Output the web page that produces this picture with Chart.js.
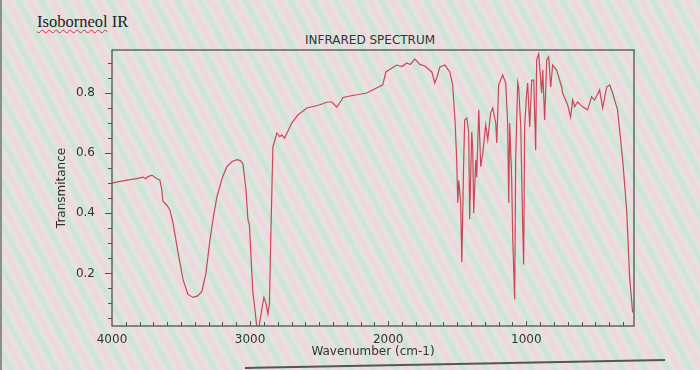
<!DOCTYPE html>
<html>
<head>
<meta charset="utf-8">
<script src="https://cdn.jsdelivr.net/npm/chart.js@4"></script>
<style>
  html, body { margin: 0; padding: 0; }
  body {
    width: 700px; height: 370px; overflow: hidden; position: relative;
    background-color: #e2e6e0;
    background-image: repeating-linear-gradient(62deg, #efd6dd 0px, #e5e3e0 5px, #cbe5d4 10px, #e5e3e0 15px, #efd6dd 20px);
    font-family: "DejaVu Sans", sans-serif;
  }
  #edge { position: absolute; left: 0; top: 0; width: 2px; height: 370px; background: #8a8f8a; }
  #heading {
    position: absolute; left: 37px; top: 12px;
    font-family: "Liberation Serif", serif; font-size: 16.5px; color: #222;
  }
  #heading span { text-decoration: underline wavy #d03040; text-decoration-thickness: 1px; text-underline-offset: 2px; }
  #spectrumTitle {
    position: absolute; left: 305px; top: 33px;
    font-size: 12px; color: #333;
  }
  #rule {
    position: absolute; left: 245px; top: 367px; width: 420px; height: 1.5px;
    background: #555; transform: rotate(-1.1deg); transform-origin: left center;
  }
  #wrap { position: absolute; left: 0; top: 0; width: 700px; height: 370px; }
</style>
</head>
<body>
<div id="edge"></div>
<div id="heading"><span>Isoborneol</span> IR</div>
<div id="spectrumTitle">INFRARED SPECTRUM</div>
<div id="rule"></div>
<div id="wrap"><canvas id="irChart" width="700" height="370"></canvas></div>
<script>
// wavenumber (cm-1) and transmittance
var wavenumbers = [4000, 3950, 3891, 3820, 3776, 3755, 3740, 3711, 3690, 3674, 3653, 3640, 3631, 3600, 3580,
    3559, 3522, 3486, 3450, 3414, 3380, 3349, 3320, 3291, 3265, 3240, 3200, 3168, 3130, 3095, 3070, 3052,
    3030, 3016, 3005, 2980, 2965, 2951, 2935, 2915, 2900, 2885, 2871, 2860, 2850, 2835, 2806, 2785, 2770,
    2750, 2734, 2698, 2654, 2589, 2500, 2440, 2408, 2372, 2340, 2328, 2278, 2155, 2039, 2017, 1938, 1900,
    1865, 1840, 1807, 1790, 1771, 1735, 1684, 1663, 1645, 1627, 1590, 1570, 1554, 1533, 1515, 1504, 1496,
    1489, 1475, 1467, 1453, 1446, 1431, 1417, 1410, 1395, 1388, 1381, 1366, 1359, 1344, 1330, 1315, 1294,
    1279, 1258, 1243, 1221, 1214, 1200, 1171, 1149, 1135, 1127, 1120, 1106, 1098, 1084, 1077, 1062, 1055,
    1040, 1026, 1019, 1012, 997, 990, 975, 961, 946, 932, 925, 910, 889, 881, 867, 852, 838, 823, 809,
    780, 744, 737, 700, 679, 664, 650, 628, 592, 556, 527, 505, 469, 447, 418, 396, 375, 339, 302, 273,
    252, 230];
var transmittance = [0.50, 0.505, 0.51, 0.515, 0.52, 0.515, 0.522, 0.527, 0.52, 0.515, 0.51, 0.48, 0.44, 0.425, 0.41,
    0.37, 0.27, 0.18, 0.13, 0.12, 0.125, 0.14, 0.2, 0.31, 0.39, 0.455, 0.52, 0.555, 0.572, 0.578, 0.575, 0.565,
    0.48, 0.38, 0.36, 0.137, 0.08, 0.02, 0.025, 0.08, 0.12, 0.1, 0.065, 0.1, 0.32, 0.62, 0.667, 0.655, 0.66,
    0.65, 0.665, 0.70, 0.727, 0.75, 0.76, 0.77, 0.77, 0.753, 0.775, 0.785, 0.79, 0.80, 0.827, 0.87, 0.893, 0.888,
    0.90, 0.895, 0.913, 0.905, 0.895, 0.89, 0.87, 0.833, 0.855, 0.886, 0.893, 0.88, 0.87, 0.827, 0.70, 0.578, 0.435,
    0.51, 0.435, 0.237, 0.578, 0.71, 0.717, 0.67, 0.38, 0.67, 0.62, 0.40, 0.578, 0.52, 0.744, 0.555, 0.60, 0.694,
    0.644, 0.734, 0.75, 0.70, 0.634, 0.827, 0.86, 0.833, 0.70, 0.435, 0.70, 0.52, 0.313, 0.114, 0.578, 0.836, 0.82,
    0.687, 0.356, 0.23, 0.687, 0.80, 0.833, 0.687, 0.843, 0.843, 0.61, 0.91, 0.93, 0.80, 0.876, 0.71, 0.91, 0.92, 0.82, 0.893,
    0.876, 0.82, 0.80, 0.76, 0.72, 0.777, 0.755, 0.77, 0.754, 0.744, 0.787, 0.777, 0.81, 0.75, 0.82, 0.827, 0.80, 0.744, 0.578, 0.41,
    0.19, 0.07];
var xTicks = [4000, 3000, 2000, 1000];
var yTicks = [0.2, 0.4, 0.6, 0.8];

var points = [];
for (var i = 0; i < wavenumbers.length; i++) {
    points.push({ x: wavenumbers[i], y: transmittance[i] });
}

// frame + minor ticks, placed through the scales
var framePlugin = {
    id: 'frame',
    afterDraw: function (chart) {
        var ctx = chart.ctx;
        var a = chart.chartArea;
        var xs = chart.scales.x, ys = chart.scales.y;
        ctx.save();
        ctx.strokeStyle = '#4e5450';
        ctx.lineWidth = 1.3;
        ctx.strokeRect(a.left, a.top, a.right - a.left, a.bottom - a.top);
        ctx.lineWidth = 1;
        ctx.beginPath();
        for (var w = 300; w <= 3900; w += 100) {
            var px = Math.round(xs.getPixelForValue(w)) + 0.5;
            var len = (w % 1000 === 0) ? 5 : 4;
            ctx.moveTo(px, a.bottom);
            ctx.lineTo(px, a.bottom - len);
        }
        for (var t = 0.05; t < 0.94; t += 0.05) {
            var py = Math.round(ys.getPixelForValue(t)) + 0.5;
            var major = Math.abs(t * 5 - Math.round(t * 5)) < 0.01;
            ctx.moveTo(a.left, py);
            ctx.lineTo(a.left - (major ? 7 : 4), py);
        }
        ctx.stroke();
        ctx.restore();
    }
};

var ctx = document.getElementById('irChart');
var irChart = new Chart(ctx, {
    type: 'line',
    data: {
        datasets: [{
            data: points,
            borderColor: '#c8485a',
            borderWidth: 1.2,
            pointRadius: 0,
            tension: 0,
            fill: false
        }]
    },
    options: {
        responsive: false,
        animation: false,
        layout: { padding: { left: 0, right: 66, top: 50, bottom: 0 } },
        plugins: { legend: { display: false }, tooltip: { enabled: false } },
        scales: {
            x: {
                type: 'linear',
                reverse: true,
                min: 220,
                max: 4000,
                afterFit: function (scale) { scale.height = 44; },
                afterBuildTicks: function (scale) {
                    scale.ticks = xTicks.map(function (v) { return { value: v }; });
                },
                grid: { display: false },
                border: { display: false },
                ticks: {
                    padding: -1, color: '#333', font: { family: 'DejaVu Sans', size: 12 }, maxRotation: 0,
                    callback: function (v) { return String(v); }
                },
                title: {
                    display: true,
                    text: 'Wavenumber (cm-1)',
                    color: '#333',
                    font: { family: 'DejaVu Sans', size: 12 },
                    padding: { top: 0, bottom: 11 }
                }
            },
            y: {
                min: 0.025,
                max: 0.943,
                afterFit: function (scale) { scale.width = 112; },
                afterBuildTicks: function (scale) {
                    scale.ticks = yTicks.map(function (v) { return { value: v }; });
                },
                grid: { display: false },
                border: { display: false },
                ticks: {
                    padding: 9, color: '#333', font: { family: 'DejaVu Sans', size: 12 },
                    callback: function (v) { return v.toFixed(1); }
                },
                title: {
                    display: true,
                    text: 'Transmitance',
                    color: '#333',
                    font: { family: 'DejaVu Sans', size: 12 },
                    padding: { top: 55, bottom: 0 }
                }
            }
        }
    },
    plugins: [framePlugin]
});
</script>
</body>
</html>
